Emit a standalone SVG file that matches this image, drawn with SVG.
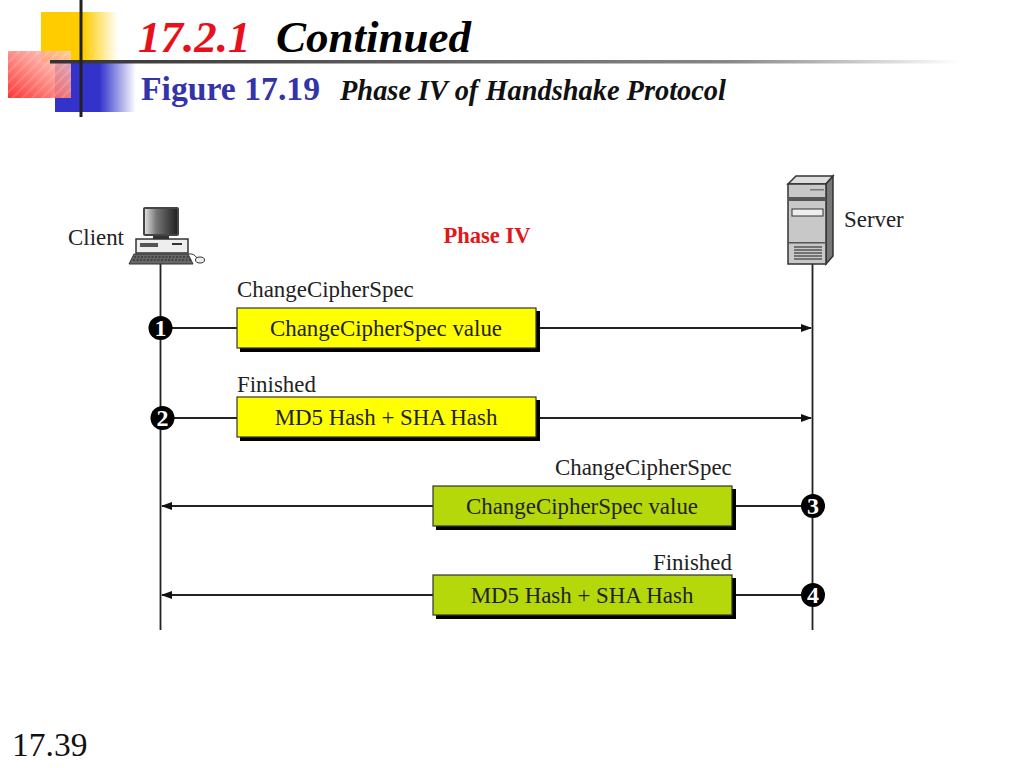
<svg xmlns="http://www.w3.org/2000/svg" width="1024" height="768" viewBox="0 0 1024 768">
<style>
.t{font-family:"Liberation Serif",serif;font-size:22.9px;fill:#222}
.c{text-anchor:middle}
.l{stroke:#222;stroke-width:1.8;fill:none}
.n{font-family:"Liberation Serif",serif;font-weight:bold;font-size:24px;fill:#fff;text-anchor:middle}
.s{fill:#000}
.y{fill:#ffff00;stroke:#333;stroke-width:1.2}
.g{fill:#b4d80a;stroke:#333;stroke-width:1.2}
.h{font-family:"Liberation Serif",serif;font-weight:bold}
</style>
<defs>
<marker id="a" markerWidth="12" markerHeight="10" refX="10" refY="4" orient="auto" markerUnits="userSpaceOnUse"><path d="M0 0L11 4L0 8Z" fill="#111"/></marker>
<linearGradient id="gy"><stop offset="0" stop-color="#ffcc00"/><stop offset=".55" stop-color="#ffcc00"/><stop offset="1" stop-color="#ffcc00" stop-opacity="0"/></linearGradient>
<linearGradient id="gb"><stop offset="0" stop-color="#3333cc"/><stop offset=".55" stop-color="#3333cc"/><stop offset="1" stop-color="#3333cc" stop-opacity="0"/></linearGradient>
<linearGradient id="gr" x1="0" y1="1" x2="1" y2="0"><stop offset="0" stop-color="#ff3434"/><stop offset="1" stop-color="#ffd0c0" stop-opacity=".8"/></linearGradient>
<linearGradient id="gl"><stop offset="0" stop-color="#333"/><stop offset=".75" stop-color="#888"/><stop offset="1" stop-color="#fff"/></linearGradient>
<linearGradient id="sc" x1="0" y1="0" x2="1" y2="0"><stop offset="0" stop-color="#ddd"/><stop offset=".35" stop-color="#777"/><stop offset="1" stop-color="#222"/></linearGradient>
<pattern id="st" width="7" height="7" patternUnits="userSpaceOnUse" patternTransform="rotate(45)"><rect width="2" height="7" fill="#fff" fill-opacity=".16"/></pattern>
</defs>
<g id="decoration">
<rect x="41" y="12" width="77" height="50" fill="url(#gy)"/>
<rect x="55" y="62" width="81" height="50" fill="url(#gb)"/>
<rect x="8" y="51" width="63" height="47" fill="url(#gr)"/>
<rect x="8" y="51" width="63" height="47" fill="url(#st)"/>
<rect x="50" y="60" width="910" height="3.500" fill="url(#gl)"/>
<rect x="79.500" y="0" width="3" height="117" fill="#222"/>
</g>
<text class="h" x="138" y="52" font-style="italic" font-size="45" fill="#e8101a">17.2.1</text>
<text class="h" x="276" y="52" font-style="italic" font-size="45" fill="#000">Continued</text>
<text class="h" x="141" y="100" font-size="33.700" fill="#3333aa">Figure 17.19</text>
<text class="h" x="340" y="100" font-style="italic" font-size="28.400" fill="#111">Phase IV of Handshake Protocol</text>
<text class="h" x="487" y="243" font-size="22.600" fill="#e01818" text-anchor="middle">Phase IV</text>
<text x="12" y="756" font-family="Liberation Serif,serif" font-size="33.500" fill="#111">17.39</text>
<g id="connectors">
<path class="l" d="M160.500 264V630M812.500 264V630"/>
<path class="l" d="M160 328H237M537 328H811" marker-end="url(#a)"/>
<path class="l" d="M160 418H237M537 418H811" marker-end="url(#a)"/>
<path class="l" d="M812 506H734M433 506H162" marker-end="url(#a)"/>
<path class="l" d="M812 595H734M433 595H162" marker-end="url(#a)"/>
</g>
<g id="client">
<text class="t" x="68" y="245">Client</text>
<rect x="143" y="207" width="36" height="29" rx="2" fill="#444"/>
<rect x="145" y="209" width="32" height="25" fill="url(#sc)"/>
<rect x="153" y="236" width="16" height="3" fill="#333"/>
<rect x="136" y="239" width="52" height="14" fill="#eee" stroke="#333" stroke-width="1.500"/>
<rect x="140" y="243" width="18" height="4" fill="#555"/>
<rect x="172" y="243" width="10" height="2" fill="#333"/>
<path d="M134 254H188L193 264H129Z" fill="#666" stroke="#333"/>
<path d="M134 257H189M133 260H191" stroke="#222" stroke-width="1.200" stroke-dasharray="2 1.500"/>
<path d="M188 254Q194 253 197 258" fill="none" stroke="#333"/>
<ellipse cx="200" cy="260" rx="4.500" ry="3" fill="#eee" stroke="#333"/>
</g>
<g id="server">
<path d="M788 184L796 176H833L826 184Z" fill="#ddd" stroke="#333" stroke-width="1.500"/>
<path d="M826 184L833 176V256L826 264Z" fill="#777" stroke="#333" stroke-width="1.500"/>
<rect x="788" y="184" width="38" height="80" fill="#c8c8c8" stroke="#333" stroke-width="1.500"/>
<rect x="810" y="189" width="14" height="1.500" fill="#777"/>
<rect x="789" y="197" width="36" height="4" fill="#555"/>
<rect x="792" y="209" width="31" height="7" fill="#eee" stroke="#333"/>
<rect x="789" y="242" width="36" height="1.500" fill="#555"/>
<path d="M794 247H822M794 250H822M794 253H822M794 256H822M794 259H822" stroke="#555" stroke-width="1.500"/>
<text class="t" x="844" y="227">Server</text>
</g>
<g id="msg1">
<text class="t" x="237" y="297">ChangeCipherSpec</text>
<rect class="s" x="240" y="311" width="300" height="41"/>
<rect class="y" x="237" y="308" width="299" height="40"/>
<text class="t c" x="386" y="336">ChangeCipherSpec value</text>
</g>
<g id="msg2">
<text class="t" x="237" y="392">Finished</text>
<rect class="s" x="240" y="400" width="300" height="41"/>
<rect class="y" x="237" y="397" width="299" height="40"/>
<text class="t c" x="386" y="425">MD5 Hash + SHA Hash</text>
</g>
<g id="msg3">
<text class="t" x="555" y="475">ChangeCipherSpec</text>
<rect class="s" x="436" y="489" width="300" height="41"/>
<rect class="g" x="433" y="486" width="299" height="40"/>
<text class="t c" x="582" y="514">ChangeCipherSpec value</text>
</g>
<g id="msg4">
<text class="t" x="653" y="570">Finished</text>
<rect class="s" x="436" y="578" width="300" height="41"/>
<rect class="g" x="433" y="575" width="299" height="40"/>
<text class="t c" x="582" y="603">MD5 Hash + SHA Hash</text>
</g>
<g id="step1"><circle cx="160.500" cy="328" r="12" fill="#000"/><text class="n" x="160.500" y="336">1</text></g>
<g id="step2"><circle cx="162.500" cy="418" r="12" fill="#000"/><text class="n" x="162.500" y="426">2</text></g>
<g id="step3"><circle cx="813" cy="506" r="12" fill="#000"/><text class="n" x="813" y="514">3</text></g>
<g id="step4"><circle cx="813" cy="595" r="12" fill="#000"/><text class="n" x="813" y="603">4</text></g>
</svg>
